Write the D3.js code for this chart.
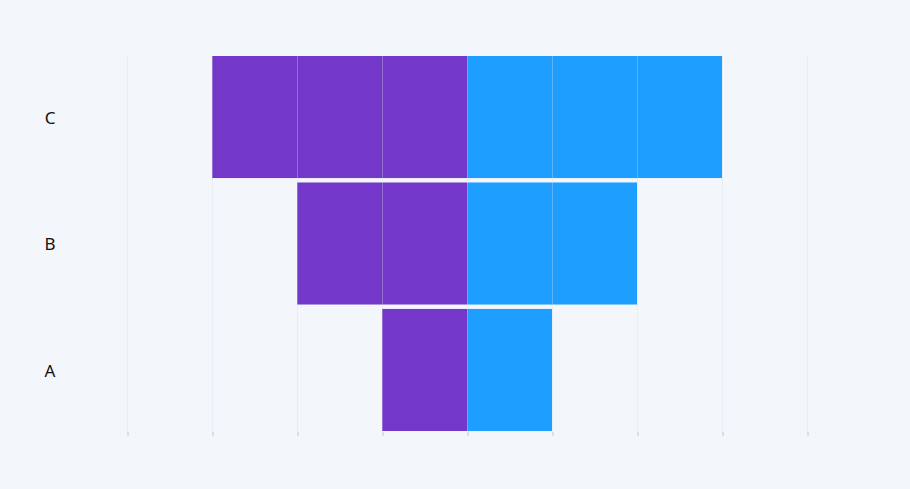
<!DOCTYPE html>
<html lang="en">
<head>
<meta charset="UTF-8">
<title>Diverging bars</title>
<script src="https://d3js.org/d3.v7.min.js"></script>
<style>
  html, body { margin: 0; padding: 0; background: #f3f6fb; }
  svg { display: block; font-family: "Noto Sans", "Open Sans", sans-serif; }
</style>
</head>
<body>
<div id="chart"></div>
<script>
    const categories = ["A", "B", "C"];
    const leftValues = [-1, -2, -3];
    const rightValues = [1, 2, 3];
    const xTicks = [-4, -3, -2, -1, 0, 1, 2, 3, 4];

    const width = 910;
    const height = 489;
    const margin = { top: 56, right: 103, bottom: 58, left: 127 };

    const svg = d3.select("#chart").append("svg")
        .attr("width", width)
        .attr("height", height);

    const x = d3.scaleLinear()
        .domain([-4, 4])
        .range([margin.left, width - margin.right]);

    // C on top, A at the bottom
    const y = d3.scaleBand()
        .domain(categories.slice().reverse())
        .range([margin.top, height - margin.bottom])
        .paddingInner(0.035)
        .paddingOuter(0);

    const rows = categories.map((c, i) => ({ cat: c, left: leftValues[i], right: rightValues[i] }));

    // left (purple) bars
    svg.selectAll(".bar-left")
        .data(rows)
        .enter()
        .append("rect")
        .attr("x", d => x(d.left))
        .attr("y", d => y(d.cat))
        .attr("width", d => x(0) - x(d.left))
        .attr("height", y.bandwidth())
        .attr("fill", "#7338ca");

    // right (blue) bars
    svg.selectAll(".bar-right")
        .data(rows)
        .enter()
        .append("rect")
        .attr("x", x(0))
        .attr("y", d => y(d.cat))
        .attr("width", d => x(d.right) - x(0))
        .attr("height", y.bandwidth())
        .attr("fill", "#1e9fff");

    // grid lines, drawn over the bars and faint
    svg.append("g")
        .selectAll("line")
        .data(xTicks)
        .enter()
        .append("line")
        .attr("x1", d => x(d) + 0.5)
        .attr("x2", d => x(d) + 0.5)
        .attr("y1", margin.top)
        .attr("y2", height - margin.bottom + 2)
        .attr("stroke", "#d5dbe6")
        .attr("stroke-opacity", 0.35)
        .attr("stroke-width", 1);

    // bottom ticks, no labels
    const xAxis = svg.append("g")
        .attr("transform", "translate(0," + (height - margin.bottom + 1) + ")")
        .call(d3.axisBottom(x).tickValues(xTicks).tickSize(4).tickFormat(""));
    xAxis.select(".domain").remove();
    xAxis.selectAll(".tick line").attr("stroke", "#c3c8d0").attr("transform", "translate(0.5,0)");

    // category labels
    svg.append("g")
        .selectAll("text")
        .data(categories)
        .enter()
        .append("text")
        .attr("x", 50)
        .attr("y", d => y(d) + y.bandwidth() / 2 + 1)
        .attr("dy", "0.35em")
        .attr("text-anchor", "middle")
        .attr("font-size", 17)
        .attr("fill", "#111111")
        .text(d => d);
</script>
</body>
</html>
